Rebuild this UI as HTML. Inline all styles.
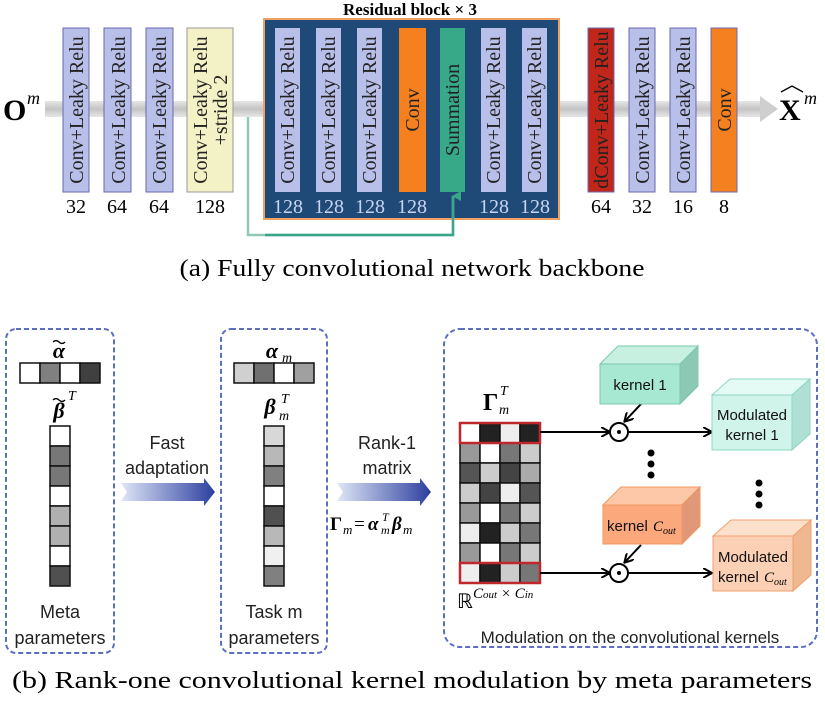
<!DOCTYPE html>
<html><head><meta charset="utf-8"><style>
html,body{margin:0;padding:0;background:#fff;}
svg{display:block;}
.s{font-family:"Liberation Serif",serif;}
.a{font-family:"Liberation Sans","DejaVu Sans",sans-serif;}
</style></head><body>
<svg width="825" height="703" viewBox="0 0 825 703" xmlns="http://www.w3.org/2000/svg">
<defs>
<linearGradient id="pipe" x1="0" y1="0" x2="0" y2="1">
<stop offset="0" stop-color="#e6e6e6"/><stop offset="0.5" stop-color="#c4c4c4"/><stop offset="1" stop-color="#e6e6e6"/></linearGradient>
<linearGradient id="blu" x1="0" y1="0" x2="1" y2="0">
<stop offset="0" stop-color="#dfe6f7"/><stop offset="1" stop-color="#2c3f9e"/></linearGradient>
<marker id="ah" markerWidth="10" markerHeight="10" refX="8" refY="5" orient="auto" markerUnits="userSpaceOnUse"><path d="M0,0 L9,5 L0,10" fill="none" stroke="#000" stroke-width="2"/></marker>
<marker id="gh" markerWidth="10" markerHeight="10" refX="5" refY="1" orient="auto" markerUnits="userSpaceOnUse"><path d="M0,9 L5,0 L10,9Z" fill="#3aa58a"/></marker>
</defs>

<rect x="45" y="101" width="718" height="16" fill="url(#pipe)"/>
<path d="M760,96 L778,109 L760,122Z" fill="#cfcfcf"/>
<text x="3" y="120" class="s" font-size="30" font-weight="bold">O</text>
<text x="27" y="104" class="s" font-size="18" font-style="italic">m</text>
<text x="779" y="120" class="s" font-size="30" font-weight="bold">X</text>
<path d="M781,92 L792,86 L803,92" fill="none" stroke="#000" stroke-width="1.3"/>
<text x="804" y="104" class="s" font-size="18" font-style="italic">m</text>

<text x="410" y="15" class="s" font-size="17" font-weight="bold" text-anchor="middle">Residual block  × 3</text>
<rect x="264" y="19" width="295" height="200" fill="#1f4a78" stroke="#f0a060" stroke-width="2"/>

<g stroke="#6a6ab0" stroke-width="1">
<rect x="63" y="28" width="26" height="164" fill="#b8bfe8"/>
<rect x="104" y="28" width="27" height="164" fill="#b8bfe8"/>
<rect x="146" y="28" width="27" height="164" fill="#b8bfe8"/>
<rect x="187" y="28" width="46" height="164" fill="#f2f2c6" stroke="#999"/>
<rect x="275" y="28" width="25" height="164" fill="#b8bfe8" stroke="none"/>
<rect x="316" y="28" width="25" height="164" fill="#b8bfe8" stroke="none"/>
<rect x="357" y="28" width="25" height="164" fill="#b8bfe8" stroke="none"/>
<rect x="399" y="28" width="27" height="164" fill="#f58020" stroke="none"/>
<rect x="440" y="28" width="25" height="164" fill="#37a888" stroke="none"/>
<rect x="481" y="28" width="25" height="164" fill="#b8bfe8" stroke="none"/>
<rect x="522" y="28" width="25" height="164" fill="#b8bfe8" stroke="none"/>
<rect x="588" y="28" width="26" height="164" fill="#c0271a"/>
<rect x="629" y="28" width="26" height="164" fill="#b8bfe8"/>
<rect x="670" y="28" width="26" height="164" fill="#b8bfe8"/>
<rect x="711" y="28" width="26" height="164" fill="#f58020"/>
</g>
<g class="s" font-size="20" fill="#222">
<text transform="translate(83,110) rotate(-90)" text-anchor="middle">Conv+Leaky Relu</text>
<text transform="translate(125,110) rotate(-90)" text-anchor="middle">Conv+Leaky Relu</text>
<text transform="translate(166,110) rotate(-90)" text-anchor="middle">Conv+Leaky Relu</text>
<text transform="translate(207,110) rotate(-90)" text-anchor="middle">Conv+Leaky Relu</text>
<text transform="translate(227,110) rotate(-90)" text-anchor="middle">+stride 2</text>
<text transform="translate(294,110) rotate(-90)" text-anchor="middle">Conv+Leaky Relu</text>
<text transform="translate(335,110) rotate(-90)" text-anchor="middle">Conv+Leaky Relu</text>
<text transform="translate(376,110) rotate(-90)" text-anchor="middle">Conv+Leaky Relu</text>
<text transform="translate(419,110) rotate(-90)" text-anchor="middle">Conv</text>
<text transform="translate(459,110) rotate(-90)" text-anchor="middle">Summation</text>
<text transform="translate(500,110) rotate(-90)" text-anchor="middle">Conv+Leaky Relu</text>
<text transform="translate(541,110) rotate(-90)" text-anchor="middle">Conv+Leaky Relu</text>
<text transform="translate(608,110) rotate(-90)" text-anchor="middle">dConv+Leaky Relu</text>
<text transform="translate(649,110) rotate(-90)" text-anchor="middle">Conv+Leaky Relu</text>
<text transform="translate(690,110) rotate(-90)" text-anchor="middle">Conv+Leaky Relu</text>
<text transform="translate(731,110) rotate(-90)" text-anchor="middle">Conv</text>
</g>
<g class="s" font-size="20" text-anchor="middle">
<text x="76" y="213">32</text><text x="117" y="213">64</text><text x="159" y="213">64</text><text x="210" y="213">128</text>
<g fill="#c8d4f0"><text x="288" y="213">128</text><text x="329" y="213">128</text><text x="370" y="213">128</text><text x="412" y="213">128</text><text x="494" y="213">128</text><text x="535" y="213">128</text></g>
<text x="601" y="213">64</text><text x="642" y="213">32</text><text x="683" y="213">16</text><text x="724" y="213">8</text>
</g>
<path d="M248,117 V235 H453 V196" fill="none" stroke="#8fc9b5" stroke-width="2.5" marker-end="url(#gh)"/>
<path d="M265,235 H453 V196" fill="none" stroke="#3aa58a" stroke-width="2.5"/>

<text x="412" y="276" class="s" font-size="24" text-anchor="middle" textLength="465" lengthAdjust="spacingAndGlyphs">(a) Fully convolutional network backbone</text>

<g fill="none" stroke="#5a6fc0" stroke-width="2" stroke-dasharray="5,3">
<rect x="6" y="329" width="108" height="324" rx="10"/>
<rect x="221" y="329" width="106" height="324" rx="10"/>
<rect x="444" y="329" width="373" height="318" rx="16"/>
</g>

<g stroke="#111" stroke-width="1.5">
<rect x="20" y="363" width="20" height="20" fill="#fff"/><rect x="40" y="363" width="20" height="20" fill="#808080"/><rect x="60" y="363" width="20" height="20" fill="#fff"/><rect x="80" y="363" width="20" height="20" fill="#404040"/>
<rect x="50" y="426" width="20" height="20" fill="#fff"/><rect x="50" y="446" width="20" height="20" fill="#777"/><rect x="50" y="466" width="20" height="20" fill="#777"/><rect x="50" y="486" width="20" height="20" fill="#fff"/><rect x="50" y="506" width="20" height="20" fill="#b0b0b0"/><rect x="50" y="526" width="20" height="20" fill="#b0b0b0"/><rect x="50" y="546" width="20" height="20" fill="#fff"/><rect x="50" y="566" width="20" height="20" fill="#505050"/>
<rect x="234" y="363" width="20" height="20" fill="#d0d0d0"/><rect x="254" y="363" width="20" height="20" fill="#707070"/><rect x="274" y="363" width="20" height="20" fill="#fff"/><rect x="294" y="363" width="20" height="20" fill="#a0a0a0"/>
<rect x="264" y="426" width="20" height="20" fill="#d8d8d8"/><rect x="264" y="446" width="20" height="20" fill="#b8b8b8"/><rect x="264" y="466" width="20" height="20" fill="#808080"/><rect x="264" y="486" width="20" height="20" fill="#fff"/><rect x="264" y="506" width="20" height="20" fill="#505050"/><rect x="264" y="526" width="20" height="20" fill="#b8b8b8"/><rect x="264" y="546" width="20" height="20" fill="#f0f0f0"/><rect x="264" y="566" width="20" height="20" fill="#808080"/>
</g>
<g class="s" font-size="22" font-weight="bold" font-style="italic">
<text x="59" y="358" text-anchor="middle">α</text>
<text x="59" y="418" text-anchor="middle">β</text><text x="68" y="400" font-size="14" font-weight="normal">T</text>
<text x="272" y="358" text-anchor="middle">α</text><text x="282" y="362" font-size="14" font-weight="normal">m</text>
<text x="270" y="414" text-anchor="middle">β</text><text x="281" y="403" font-size="14" font-weight="normal">T</text><text x="279" y="420" font-size="14" font-weight="normal">m</text>
</g>
<path d="M53,342 q3,-3 6,0 t6,0" fill="none" stroke="#000" stroke-width="1.3"/>
<path d="M53,400 q3,-3 6,0 t6,0" fill="none" stroke="#000" stroke-width="1.3"/>
<g class="a" font-size="18" text-anchor="middle" fill="#222">
<text x="60" y="618">Meta</text><text x="60" y="644">parameters</text>
<text x="274" y="618">Task m</text><text x="274" y="644">parameters</text>
<text x="167" y="449">Fast</text><text x="167" y="474">adaptation</text>
<text x="387" y="449">Rank-1</text><text x="387" y="474">matrix</text>
<text x="630" y="643" font-size="17">Modulation on the convolutional kernels</text>
</g>
<path d="M121,483 H204 V478 L215,492 L204,506 V501 H121 L127,492Z" fill="url(#blu)"/>
<path d="M337,483 H420 V478 L431,492 L420,506 V501 H337 L343,492Z" fill="url(#blu)"/>
<g class="s" font-size="19" font-weight="bold">
<text x="330" y="530">Γ</text><text x="343" y="534" font-size="13" font-weight="normal" font-style="italic">m</text>
<text x="354" y="530" font-weight="normal">=</text>
<text x="368" y="530" font-style="italic">α</text><text x="382" y="521" font-size="12" font-weight="normal" font-style="italic">T</text><text x="381" y="534" font-size="12" font-weight="normal" font-style="italic">m</text>
<text x="392" y="530" font-style="italic">β</text><text x="403" y="534" font-size="13" font-weight="normal" font-style="italic">m</text>
</g>

<g stroke="#111" stroke-width="1.5">
<rect x="460" y="423" width="20" height="20" fill="#fff"/><rect x="480" y="423" width="20" height="20" fill="#222"/><rect x="500" y="423" width="20" height="20" fill="#eee"/><rect x="520" y="423" width="20" height="20" fill="#222"/>
<rect x="460" y="443" width="20" height="20" fill="#999"/><rect x="480" y="443" width="20" height="20" fill="#fff"/><rect x="500" y="443" width="20" height="20" fill="#777"/><rect x="520" y="443" width="20" height="20" fill="#ccc"/>
<rect x="460" y="463" width="20" height="20" fill="#555"/><rect x="480" y="463" width="20" height="20" fill="#ccc"/><rect x="500" y="463" width="20" height="20" fill="#444"/><rect x="520" y="463" width="20" height="20" fill="#aaa"/>
<rect x="460" y="483" width="20" height="20" fill="#ccc"/><rect x="480" y="483" width="20" height="20" fill="#444"/><rect x="500" y="483" width="20" height="20" fill="#eee"/><rect x="520" y="483" width="20" height="20" fill="#555"/>
<rect x="460" y="503" width="20" height="20" fill="#999"/><rect x="480" y="503" width="20" height="20" fill="#fff"/><rect x="500" y="503" width="20" height="20" fill="#777"/><rect x="520" y="503" width="20" height="20" fill="#ccc"/>
<rect x="460" y="523" width="20" height="20" fill="#eee"/><rect x="480" y="523" width="20" height="20" fill="#222"/><rect x="500" y="523" width="20" height="20" fill="#ccc"/><rect x="520" y="523" width="20" height="20" fill="#777"/>
<rect x="460" y="543" width="20" height="20" fill="#999"/><rect x="480" y="543" width="20" height="20" fill="#fff"/><rect x="500" y="543" width="20" height="20" fill="#777"/><rect x="520" y="543" width="20" height="20" fill="#ccc"/>
<rect x="460" y="563" width="20" height="20" fill="#eee"/><rect x="480" y="563" width="20" height="20" fill="#222"/><rect x="500" y="563" width="20" height="20" fill="#ccc"/><rect x="520" y="563" width="20" height="20" fill="#777"/>
</g>
<rect x="460" y="423" width="80" height="20" fill="none" stroke="#c0272d" stroke-width="2.5"/>
<rect x="460" y="563" width="80" height="20" fill="none" stroke="#c0272d" stroke-width="2.5"/>
<text x="483" y="410" class="s" font-size="24" font-weight="bold">Γ</text><text x="500" y="395" class="s" font-size="14" font-style="italic">T</text><text x="499" y="414" class="s" font-size="14" font-style="italic">m</text>
<text x="457" y="608" class="s" font-size="20">ℝ</text><text x="473" y="598" class="s" font-size="15" font-style="italic">C<tspan font-size="11">out</tspan> × C<tspan font-size="11">in</tspan></text>

<g stroke="#000" stroke-width="2" fill="none">
<line x1="540" y1="432" x2="609" y2="432" marker-end="url(#ah)"/>
<line x1="629" y1="432" x2="711" y2="432" marker-end="url(#ah)"/>
<line x1="540" y1="573" x2="609" y2="573" marker-end="url(#ah)"/>
<line x1="629" y1="573" x2="711" y2="573" marker-end="url(#ah)"/>
<line x1="641" y1="404" x2="625" y2="421" marker-end="url(#ah)"/>
<line x1="641" y1="545" x2="625" y2="562" marker-end="url(#ah)"/>
<circle cx="619" cy="432" r="9" fill="#fff"/>
<circle cx="619" cy="573" r="9" fill="#fff"/>
</g>
<circle cx="619" cy="432" r="2" fill="#000"/><circle cx="619" cy="573" r="2" fill="#000"/>
<g fill="#000"><circle cx="651" cy="453" r="3.5"/><circle cx="651" cy="464" r="3.5"/><circle cx="651" cy="475" r="3.5"/>
<circle cx="759" cy="483" r="3.5"/><circle cx="759" cy="494" r="3.5"/><circle cx="759" cy="505" r="3.5"/></g>

<g stroke-width="1">
<path d="M600,364 L618,346 L698,346 L680,364Z" fill="#c8f0e0" stroke="#7cc8b0"/>
<path d="M680,364 L698,346 L698,386 L680,404Z" fill="#8cc8b4" stroke="#7cc8b0"/>
<rect x="600" y="364" width="80" height="40" fill="#a6e8d2" stroke="#7cc8b0"/>
<path d="M712,395 L730,379 L810,379 L792,395Z" fill="#e4faf4" stroke="#8cd8c4"/>
<path d="M792,395 L810,379 L810,434 L792,450Z" fill="#b0e0d4" stroke="#8cd8c4"/>
<rect x="712" y="395" width="80" height="55" fill="#d0f4ea" stroke="#8cd8c4"/>
<path d="M603,505 L621,487 L700,487 L682,505Z" fill="#fcc8a8" stroke="#f09860"/>
<path d="M682,505 L700,487 L700,526 L682,544Z" fill="#e09878" stroke="#f09860"/>
<rect x="603" y="505" width="79" height="39" fill="#faa87c" stroke="#f09860"/>
<path d="M713,536 L731,520 L811,520 L793,536Z" fill="#fde0cc" stroke="#f0a070"/>
<path d="M793,536 L811,520 L811,575 L793,591Z" fill="#f0b890" stroke="#f0a070"/>
<rect x="713" y="536" width="80" height="55" fill="#fcd0b4" stroke="#f0a070"/>
</g>
<g class="a" font-size="15" fill="#111">
<text x="640" y="390" text-anchor="middle">kernel 1</text>
<text x="752" y="420" text-anchor="middle">Modulated</text><text x="752" y="440" text-anchor="middle">kernel 1</text>
<text x="607" y="531">kernel</text>
<text x="753" y="562" text-anchor="middle">Modulated</text><text x="718" y="582">kernel</text>
</g>
<text x="653" y="531" class="s" font-size="15" font-style="italic">C<tspan font-size="10" dy="3">out</tspan></text>
<text x="764" y="582" class="s" font-size="15" font-style="italic">C<tspan font-size="10" dy="3">out</tspan></text>

<text x="412" y="688" class="s" font-size="24" text-anchor="middle" textLength="800" lengthAdjust="spacingAndGlyphs">(b) Rank-one convolutional kernel modulation by meta parameters</text>
</svg>
</body></html>
